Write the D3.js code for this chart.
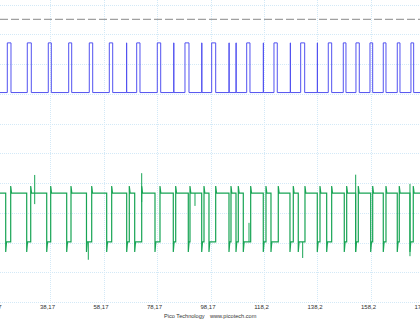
<!DOCTYPE html>
<html>
<head>
<meta charset="utf-8">
<script src="https://cdn.jsdelivr.net/npm/d3@7"></script>
<style>
    html, body { margin: 0; padding: 0; background: #fff; }
    svg { display: block; }
    .tick-label { font-family: "Liberation Sans", Arial, sans-serif; font-size: 6px; fill: #333; }
    .footer { font-family: "Liberation Sans", Arial, sans-serif; font-size: 5.6px; fill: #333; }
</style>
</head>
<body>
<div id="chart"></div>
<script>
// Time axis ticks (ms)
const timeTicks = [18.17, 38.17, 58.17, 78.17, 98.17, 118.17, 138.17, 158.17, 178.17];

// Channel A (blue) - pulse rise / fall times (ms)
const blueRise = [22.21, 29.68, 37.53, 45.16, 52.86, 60.34, 66.77, 70.58, 78.28, 84.41, 88.63, 94.88, 98.61, 105.08,
                  107.70, 111.70, 117.90, 121.90, 127.99, 131.88, 138.09, 142.20, 147.81, 152.55, 157.79, 162.76, 167.99, 173.11];
const blueFall = [23.59, 31.18, 38.66, 46.28, 54.13, 61.61, 66.85, 71.81, 79.55, 84.49, 90.13, 94.96, 100.11, 105.16,
                  107.78, 112.93, 117.98, 123.13, 128.07, 133.38, 138.17, 143.47, 148.81, 153.79, 158.80, 163.77, 169.00, 174.12];
const blueLevels = { high: 3.71, low: 2.04 };

// Channel B (green) - low pulse fall / rise times (ms)
const greenFall = [21.61, 29.46, 36.94, 44.41, 51.81, 59.36, 66.84, 69.83, 77.42, 84.26, 89.87, 94.88, 97.60, 105.08,
                   107.70, 110.43, 117.90, 120.78, 127.88, 130.98, 138.09, 141.60, 148.18, 152.44, 158.05, 162.76, 167.99, 172.74];
const greenRise = [23.48, 30.96, 38.43, 46.02, 53.76, 61.23, 67.81, 72.45, 79.29, 85.16, 90.50, 95.74, 100.11, 105.83,
                   108.56, 113.19, 118.91, 123.51, 129.12, 133.49, 139.10, 143.47, 149.08, 153.42, 158.80, 163.77, 168.74, 173.97];
const greenLevels = { high: -1.34, low: -2.98, overshoot: -1.10, undershoot: -3.32 };

// Green glitches: time, top and bottom of the spike
const glitchTime = [32.45, 52.49, 72.45, 92.37, 112.56, 132.63, 152.44, 172.74];
const glitchTop = [-0.73, -2.98, -0.67, -1.34, -2.34, -2.98, -0.72, -1.03];
const glitchBottom = [-1.71, -3.58, -1.64, -1.77, -2.98, -3.52, -3.32, -3.46];

const triggerLevel = 4.5;

const width = 420, height = 320;
const settle = 0.3; // ms for edge ringing to settle

const svg = d3.select('#chart').append('svg')
    .attr('width', width)
    .attr('height', height);

const x = d3.scaleLinear().domain([18.17, 178.17]).range([-3.5, 424.5]);
const y = d3.scaleLinear().domain([-5, 5]).range([302, 4.5]);

// Grid
svg.append('g').selectAll('line')
    .data(y.ticks(10))
    .enter().append('line')
    .attr('x1', 0).attr('x2', width)
    .attr('y1', d => Math.round(y(d)) + 0.5).attr('y2', d => Math.round(y(d)) + 0.5)
    .attr('stroke', '#d3e9f7')
    .attr('stroke-dasharray', '1,1');

svg.append('g').selectAll('line')
    .data(timeTicks)
    .enter().append('line')
    .attr('x1', d => Math.round(x(d)) + 0.5).attr('x2', d => Math.round(x(d)) + 0.5)
    .attr('y1', 0).attr('y2', y(-5))
    .attr('stroke', '#d3e9f7')
    .attr('stroke-dasharray', '1,1');

// Trigger level
svg.append('line')
    .attr('x1', 0).attr('x2', width)
    .attr('y1', y(triggerLevel)).attr('y2', y(triggerLevel))
    .attr('stroke', '#a0a0a0')
    .attr('stroke-width', 1.4)
    .attr('stroke-dasharray', '8,3');

const line = d3.line().x(d => x(d[0])).y(d => y(d[1]));

// Blue trace
const bluePts = [[15, blueLevels.low]];
blueRise.forEach((r, i) => {
    bluePts.push([r, blueLevels.low], [r, blueLevels.high], [blueFall[i], blueLevels.high], [blueFall[i], blueLevels.low]);
});
bluePts.push([182, blueLevels.low]);

svg.append('path')
    .datum(bluePts)
    .attr('fill', 'none')
    .attr('stroke', '#5252f0')
    .attr('stroke-width', 1)
    .attr('d', line);

// Green trace
const greenPts = [[15, greenLevels.high]];
greenFall.forEach((f, i) => {
    const r = greenRise[i];
    greenPts.push([f, greenLevels.high], [f, greenLevels.undershoot], [f + settle, greenLevels.low],
                  [r, greenLevels.low], [r, greenLevels.overshoot], [r + settle, greenLevels.high]);
});
greenPts.push([182, greenLevels.high]);

svg.append('path')
    .datum(greenPts)
    .attr('fill', 'none')
    .attr('stroke', '#17a454')
    .attr('stroke-width', 1.2)
    .attr('d', line);

svg.append('g').selectAll('line')
    .data(glitchTime)
    .enter().append('line')
    .attr('x1', d => x(d)).attr('x2', d => x(d))
    .attr('y1', (d, i) => y(glitchTop[i]))
    .attr('y2', (d, i) => y(glitchBottom[i]))
    .attr('stroke', '#17a454')
    .attr('stroke-width', 1);

// Tick labels
const fmt = d3.formatLocale({ decimal: ',', thousands: '.', grouping: [3], currency: ['', ''] }).format('.4');
svg.append('g').selectAll('text')
    .data(timeTicks)
    .enter().append('text')
    .attr('class', 'tick-label')
    .attr('x', d => x(d) - 2.5)
    .attr('y', 309)
    .attr('text-anchor', 'middle')
    .text(d => fmt(d));

// Footer
svg.append('text').attr('class', 'footer').attr('x', 164).attr('y', 318).text('Pico Technology');
svg.append('text').attr('class', 'footer').attr('x', 210).attr('y', 318).text('www.picotech.com');
</script>
</body>
</html>
